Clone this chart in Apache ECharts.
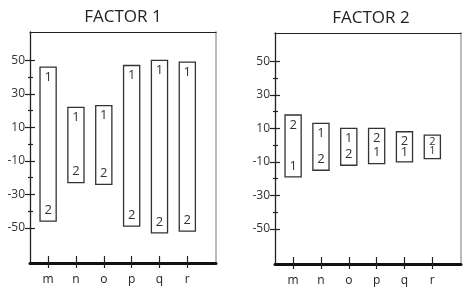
<!DOCTYPE html>
<html>
<head>
<meta charset="utf-8">
<script src="https://cdn.jsdelivr.net/npm/echarts@6/dist/echarts.min.js"></script>
<style>html,body{margin:0;padding:0;background:#fff}#c{width:474px;height:293px}</style>
</head>
<body>
<div id="c"></div>
<script>
const categories = ['m', 'n', 'o', 'p', 'q', 'r'];
const groupLabels = ['1', '2'];
const titles = ['FACTOR 1', 'FACTOR 2'];
const factor1Group1 = [46, 22, 23, 47, 50, 49];
const factor1Group2 = [-46, -23, -24, -49, -53, -52];
const factor2Group1 = [-19, 13, 10, -11, -10, -8];
const factor2Group2 = [18, -15, -12, 10, 8, 6];
const yTickLabels = [-50, -30, -10, 10, 30, 50];
const yMinorTicks = [-40, -20, 0, 20, 40];

const FONT = 'Open Sans';
const catIdx = categories.map((c, i) => i);
const X_MIN = -0.65, X_MAX = 6.03, Y_MIN = -71, Y_MAX = 67;

function renderItem(params, api) {
  const i = api.value(0), a = api.value(1), b = api.value(2);
  const pa = api.coord([i, a]), pb = api.coord([i, b]);
  const w = api.size([0.58, 0])[0];
  const top = Math.min(pa[1], pb[1]), bot = Math.max(pa[1], pb[1]);
  const h = bot - top;
  const topLabel = pa[1] < pb[1] ? groupLabels[0] : groupLabels[1];
  const botLabel = pa[1] < pb[1] ? groupLabels[1] : groupLabels[0];
  const offT = Math.min(10, h * 0.3), offB = Math.min(11, h * 0.32);
  const fs = h < 30 ? 11 : 13;
  const txt = (t, y) => ({
    type: 'text',
    style: { text: t, x: pa[0], y: y, align: 'center', verticalAlign: 'middle',
      fontSize: fs, fontFamily: FONT, fill: '#333' }
  });
  return {
    type: 'group',
    children: [
      { type: 'rect', shape: { x: pa[0] - w / 2, y: top, width: w, height: h },
        style: { fill: '#fff', stroke: '#333', lineWidth: 1.3 } },
      txt(topLabel, top + offT),
      txt(botLabel, bot - offB)
    ]
  };
}

const grids = [
  { left: 30, top: 32, width: 186, height: 231 },
  { left: 275, top: 33, width: 186, height: 231 }
];

const xAxis = [], yAxis = [], series = [];
const groups = [[factor1Group1, factor1Group2], [factor2Group1, factor2Group2]];
grids.forEach((g, gi) => {
  const xb = { gridIndex: gi, type: 'value', min: X_MIN, max: X_MAX, splitLine: { show: false } };
  const yb = { gridIndex: gi, type: 'value', min: Y_MIN, max: Y_MAX, splitLine: { show: false } };
  xAxis.push(Object.assign({}, xb, {
    position: 'bottom',
    axisLine: { show: true, onZero: false, lineStyle: { color: '#111', width: 3 } },
    axisTick: { show: false },
    axisLabel: { customValues: catIdx, formatter: v => categories[Math.round(v)], margin: 11,
      fontSize: 12, fontFamily: FONT, color: '#222' }
  }));
  xAxis.push(Object.assign({}, xb, {
    position: 'bottom', offset: 5,
    axisLine: { show: false, onZero: false },
    axisTick: { show: true, inside: true, length: 12, customValues: catIdx, lineStyle: { color: '#222', width: 1.2 } },
    axisLabel: { show: false }
  }));
  xAxis.push(Object.assign({}, xb, {
    position: 'top',
    axisLine: { show: true, onZero: false, lineStyle: { color: '#222', width: 1.2 } },
    axisTick: { show: false }, axisLabel: { show: false }
  }));
  yAxis.push(Object.assign({}, yb, {
    position: 'left',
    axisLine: { show: true, onZero: false, lineStyle: { color: '#222', width: 1.3 } },
    axisTick: { show: false },
    axisLabel: { customValues: yTickLabels, margin: 5, fontSize: 12, fontFamily: FONT, color: '#333' }
  }));
  yAxis.push(Object.assign({}, yb, {
    position: 'left', offset: 5,
    axisLine: { show: false, onZero: false },
    axisTick: { show: true, inside: true, length: 10, customValues: yTickLabels, lineStyle: { color: '#222', width: 1.2 } },
    axisLabel: { show: false }
  }));
  yAxis.push(Object.assign({}, yb, {
    position: 'left', offset: 2,
    axisLine: { show: false, onZero: false },
    axisTick: { show: true, inside: true, length: 5, customValues: yMinorTicks, lineStyle: { color: '#222', width: 1.2 } },
    axisLabel: { show: false }
  }));
  yAxis.push(Object.assign({}, yb, {
    position: 'right',
    axisLine: { show: true, onZero: false, lineStyle: { color: '#bbb', width: 2 } },
    axisTick: { show: false }, axisLabel: { show: false }
  }));
  series.push({
    type: 'custom', xAxisIndex: gi * 3, yAxisIndex: gi * 4,
    renderItem: renderItem, clip: false,
    encode: { x: 0, y: [1, 2] },
    data: categories.map((c, i) => [i, groups[gi][0][i], groups[gi][1][i]])
  });
});

const chart = echarts.init(document.getElementById('c'), null, { renderer: 'canvas' });
chart.setOption({
  animation: false,
  backgroundColor: '#fff',
  title: [
    { text: titles[0], left: 118, top: 4, textAlign: 'center',
      textStyle: { fontSize: 17, fontWeight: 'normal', color: '#222', fontFamily: FONT } },
    { text: titles[1], left: 366, top: 5, textAlign: 'center',
      textStyle: { fontSize: 17, fontWeight: 'normal', color: '#222', fontFamily: FONT } }
  ],
  grid: grids,
  xAxis: xAxis,
  yAxis: yAxis,
  series: series
});
</script>
</body>
</html>
